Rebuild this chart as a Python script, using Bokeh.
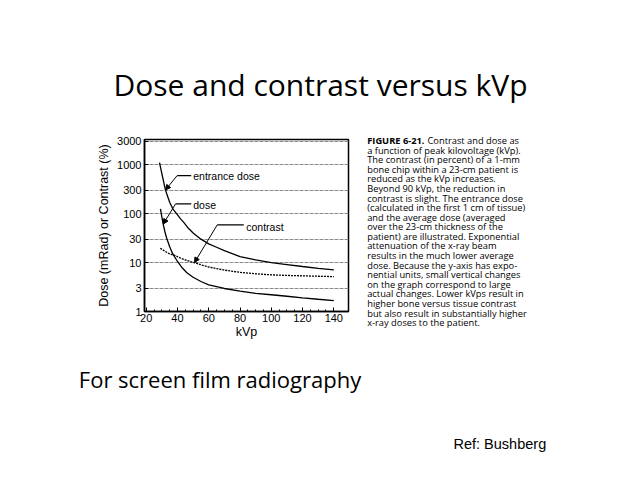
from bokeh.plotting import figure
from bokeh.layouts import column, row
from bokeh.models import (Range1d, FixedTicker, Label, Arrow, NormalHead)
from bokeh.embed import file_html
from bokeh.resources import INLINE

# ---------------- data ----------------
entrance_kvp = [28.5, 30, 31, 32, 33, 35, 37, 39.4, 42, 44, 47, 50, 55, 60, 65, 70, 80, 90, 100, 110, 120, 130, 140]
entrance_dose = [1100, 650, 470, 330, 260, 170, 125, 100, 78, 66, 50, 40, 30, 24, 20.5, 17.5, 13.2, 11.3, 10.0, 9.1, 8.3, 7.6, 7.1]

dose_kvp = [29.1, 30, 31, 32, 33, 35, 37, 40, 43, 46, 50, 55, 60, 70, 80, 90, 100, 110, 120, 130, 140]
dose_avg = [124, 85, 58, 42, 32, 21, 15, 10.5, 7.8, 6.2, 5.0, 4.1, 3.5, 2.95, 2.6, 2.35, 2.2, 2.05, 1.9, 1.78, 1.67]

contrast_kvp = [29, 32, 35, 38.7, 42, 46, 50.5, 55, 60, 70, 80, 90, 100, 110, 120, 130, 140]
contrast_pct = [19.5, 17, 15, 13.8, 12.3, 11, 10, 9, 8.1, 7, 6.3, 5.9, 5.6, 5.45, 5.35, 5.25, 5.15]

x_ticks = [20, 40, 60, 80, 100, 120, 140]
y_ticks = [1, 3, 10, 30, 100, 300, 1000, 3000]

title_text = "Dose and contrast versus kVp"
subtitle_text = "For screen film radiography"
ref_text = "Ref: Bushberg"
caption_bold = "FIGURE 6-21."
caption_lines = [
    "Contrast and dose as",
    "a function of peak kilovoltage (kVp).",
    "The contrast (in percent) of a 1-mm",
    "bone chip within a 23-cm patient is",
    "reduced as the kVp increases.",
    "Beyond 90 kVp, the reduction in",
    "contrast is slight. The entrance dose",
    "(calculated in the first 1 cm of tissue)",
    "and the average dose (averaged",
    "over the 23-cm thickness of the",
    "patient) are illustrated. Exponential",
    "attenuation of the x-ray beam",
    "results in the much lower average",
    "dose. Because the y-axis has expo-",
    "nential units, small vertical changes",
    "on the graph correspond to large",
    "actual changes. Lower kVps result in",
    "higher bone versus tissue contrast",
    "but also result in substantially higher",
    "x-ray doses to the patient.",
]

# ---------------- helpers ----------------
def text_fig(w, h):
    f = figure(width=w, height=h, x_range=Range1d(0, w), y_range=Range1d(h, 0),
               min_border=0, output_backend="svg", toolbar_location=None,
               x_axis_location=None, y_axis_location=None, frame_align=False)
    f.grid.visible = False
    f.outline_line_color = None
    f.background_fill_color = "white"
    f.border_fill_color = "white"
    return f

def put(f, x, y, text, font, size_px, style="normal", align="left"):
    # y is the wanted baseline; compensate the renderer's baseline placement
    f.add_layout(Label(x=x, y=y - 0.43 * size_px, text=text, text_font=font,
                       text_font_size=f"{size_px}px", text_font_style=style,
                       text_align=align, text_baseline="alphabetic",
                       text_color="black"))

W = 638
TOP_H, MID_H, BOT_H = 130, 215, 148
CHART_W = 350

# ---------------- top: title ----------------
top = text_fig(W, TOP_H)
put(top, 320, 96.7, title_text, "Open Sans", 30, align="center")

# ---------------- chart ----------------
p = figure(width=CHART_W, height=MID_H, output_backend="svg", toolbar_location=None,
           x_range=Range1d(18.9, 149.4), y_range=Range1d(1, 3250),
           y_axis_type="log", frame_align=False,
           min_border_left=144, min_border_top=9,
           min_border_right=2, min_border_bottom=34)
p.background_fill_color = "white"
p.border_fill_color = "white"
p.outline_line_color = "black"
p.outline_line_width = 1.5

p.xaxis.ticker = FixedTicker(ticks=x_ticks, minor_ticks=list(range(20, 145, 5)))
p.yaxis.ticker = FixedTicker(ticks=y_ticks)
p.yaxis.major_label_overrides = {t: str(t) for t in y_ticks}
for ax in (p.xaxis[0], p.yaxis[0]):
    ax.axis_line_color = "black"
    ax.axis_line_width = 1.5
    ax.major_tick_in = 4
    ax.major_tick_out = 0
    ax.minor_tick_in = 2
    ax.minor_tick_out = 0
    ax.major_tick_line_color = "black"
    ax.minor_tick_line_color = "black"
    ax.major_label_text_font = "Liberation Sans"
    ax.major_label_text_font_size = "11px"
    ax.major_label_text_color = "black"
    ax.axis_label_text_font = "Liberation Sans"
    ax.axis_label_text_font_style = "normal"
    ax.axis_label_text_font_size = "12.5px"
    ax.axis_label_text_color = "black"
p.yaxis.minor_tick_line_color = None
p.xaxis.major_label_standoff = 2
p.yaxis.major_label_standoff = 3
p.xaxis.axis_label = "kVp"
p.yaxis.axis_label = "Dose (mRad) or Contrast (%)"
p.xaxis.axis_label_standoff = 0
p.yaxis.axis_label_standoff = 3

p.xgrid.grid_line_color = None
p.ygrid.grid_line_color = "#8a8a8a"
p.ygrid.grid_line_dash = "4 1"
p.ygrid.grid_line_width = 1

p.line(entrance_kvp, entrance_dose, line_color="black", line_width=1.3)
p.line(dose_kvp, dose_avg, line_color="black", line_width=1.3)
p.line(contrast_kvp, contrast_pct, line_color="black", line_width=1.3, line_dash="2 1")

def leader(corner, end, tip, text, text_x, text_y):
    p.line([end[0], corner[0]], [corner[1], corner[1]], line_color="black", line_width=1.2)
    p.add_layout(Arrow(x_start=corner[0], y_start=corner[1], x_end=tip[0], y_end=tip[1],
                       line_color="black", line_width=1,
                       end=NormalHead(size=5, fill_color="black", line_color="black")))
    p.add_layout(Label(x=text_x, y=text_y, text=text, text_font="Liberation Sans",
                       text_font_size="10.5px", text_baseline="middle", text_color="black"))

leader((39.8, 596), (48.8, 596), (32.35, 304), "entrance dose", 50.1, 596)
leader((38.75, 157), (48.8, 157), (30.9, 61), "dose", 50.1, 150)
leader((65.4, 58.5), (82.4, 58.5), (50.9, 10.0), "contrast", 84, 52.3)

# ---------------- caption (right of chart) ----------------
cap = text_fig(W - CHART_W, MID_H)
ox, oy = CHART_W, TOP_H
cap_x = 366.7 - ox
CAP_FS = 9.3
put(cap, cap_x, 144 - oy, caption_bold, "Open Sans", CAP_FS, style="bold")
put(cap, 427 - ox, 144 - oy, caption_lines[0], "Open Sans", CAP_FS)
for i, line in enumerate(caption_lines[1:], start=1):
    put(cap, cap_x, 144 - oy + 9.59 * i, line, "Open Sans", CAP_FS)

# ---------------- bottom texts ----------------
bot = text_fig(W, BOT_H)
by = TOP_H + MID_H
put(bot, 78.3, 388 - by, subtitle_text, "Open Sans", 22)
put(bot, 453, 449.3 - by, ref_text, "Liberation Sans", 14.5)

layout = column(top, row(p, cap, spacing=0), bot, spacing=0)
open("out.html", "w").write(file_html(layout, INLINE))
